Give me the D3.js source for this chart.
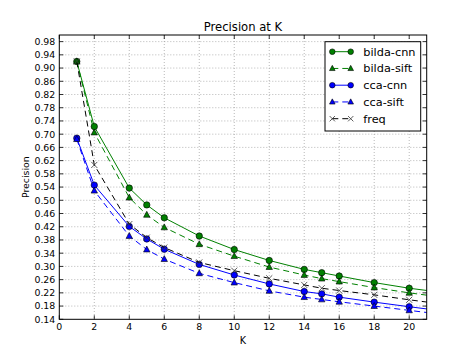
<!DOCTYPE html>
<html><head><meta charset="utf-8">
<script src="https://cdn.jsdelivr.net/npm/d3@7"></script>
<style>body{margin:0;background:#fff}svg{display:block;font-family:"DejaVu Sans",sans-serif}</style>
</head><body><svg id="c" width="474" height="355"></svg>
<script>
const ks = [1,2,4,5,6,8,10,12,14,15,16,18,20,25];
const bildaCnn  = [0.920,0.723,0.537,0.486,0.447,0.392,0.351,0.318,0.291,0.281,0.271,0.251,0.234,0.200];
const bildaSift = [0.920,0.705,0.508,0.456,0.418,0.367,0.331,0.298,0.274,0.263,0.254,0.236,0.220,0.185];
const ccaCnn    = [0.688,0.546,0.421,0.383,0.352,0.306,0.274,0.247,0.224,0.217,0.207,0.192,0.178,0.145];
const ccaSift   = [0.685,0.529,0.392,0.351,0.322,0.279,0.251,0.226,0.207,0.200,0.193,0.180,0.167,0.135];
const freq      = [0.920,0.607,0.428,0.387,0.357,0.312,0.287,0.264,0.244,0.234,0.227,0.214,0.199,0.165];
const seriesNames = ["bilda-cnn","bilda-sift","cca-cnn","cca-sift","freq"];
const xTicks = d3.range(0, 21, 2);
const yTicks = d3.range(0.14, 0.99, 0.04);

const series = [
  {name: seriesNames[0], vals: bildaCnn,  color: "#008000", dash: null,  marker: "circle"},
  {name: seriesNames[1], vals: bildaSift, color: "#008000", dash: "6,4", marker: "triangle"},
  {name: seriesNames[2], vals: ccaCnn,    color: "#0000ff", dash: null,  marker: "circle"},
  {name: seriesNames[3], vals: ccaSift,   color: "#0000ff", dash: "6,4", marker: "triangle"},
  {name: seriesNames[4], vals: freq,      color: "#000000", dash: "6,4", marker: "x"}
];

const L = 59.3, R = 426.7, T = 35, B = 319.3;
const svg = d3.select("#c");
const x = d3.scaleLinear().domain([0, 21]).range([L, R]);
const y = d3.scaleLinear().domain([0.14, 1.0]).range([B, T]);

svg.append("defs").append("clipPath").attr("id","clip")
  .append("rect").attr("x",L).attr("y",T).attr("width",R-L).attr("height",B-T);

// grid
const g = svg.append("g");
g.selectAll(".gx").data(xTicks.slice(1)).join("line")
  .attr("x1",d=>x(d)).attr("x2",d=>x(d)).attr("y1",T).attr("y2",B)
  .attr("stroke","#888").attr("stroke-width",0.6).attr("stroke-dasharray","1,2");
g.selectAll(".gy").data(yTicks.slice(1)).join("line")
  .attr("y1",d=>y(d)).attr("y2",d=>y(d)).attr("x1",L).attr("x2",R)
  .attr("stroke","#888").attr("stroke-width",0.6).attr("stroke-dasharray","1,2");

function markerPath(type, r) {
  if (type === "circle") return d3.symbol(d3.symbolCircle, Math.PI*r*r)();
  if (type === "triangle") return `M0,${-r*1.1}L${r*1.0},${r*0.75}L${-r*1.0},${r*0.75}Z`;
  return `M${-r},${-r}L${r},${r}M${-r},${r}L${r},${-r}`;
}
function drawMarker(sel, s, r) {
  if (s.marker === "x") {
    sel.attr("d", markerPath("x", r*0.95)).attr("fill","none").attr("stroke","#333").attr("stroke-width",0.8);
  } else {
    sel.attr("d", markerPath(s.marker, r)).attr("fill", s.color).attr("stroke","#000").attr("stroke-width",0.6);
  }
}

const plot = svg.append("g").attr("clip-path","url(#clip)");
const line = d3.line().x(d=>x(d[0])).y(d=>y(d[1]));
series.forEach(s => {
  const pts = ks.map((k,i)=>[k, s.vals[i]]);
  plot.append("path").datum(pts).attr("d", line).attr("fill","none")
    .attr("stroke", s.color).attr("stroke-width",1)
    .attr("stroke-dasharray", s.dash);
  plot.selectAll(null).data(pts).join("path")
    .attr("transform", d=>`translate(${x(d[0])},${y(d[1])})`)
    .call(sel => drawMarker(sel, s, 3.2));
});

// frame
svg.append("rect").attr("x",L).attr("y",T).attr("width",R-L).attr("height",B-T)
  .attr("fill","none").attr("stroke","#000").attr("stroke-width",1);

// ticks (inside, all sides)
const tl = 4;
const tk = svg.append("g").attr("stroke","#000").attr("stroke-width",0.8);
xTicks.forEach(t => {
  tk.append("line").attr("x1",x(t)).attr("x2",x(t)).attr("y1",B).attr("y2",B-tl);
  tk.append("line").attr("x1",x(t)).attr("x2",x(t)).attr("y1",T).attr("y2",T+tl);
});
yTicks.forEach(t => {
  tk.append("line").attr("y1",y(t)).attr("y2",y(t)).attr("x1",L).attr("x2",L+tl);
  tk.append("line").attr("y1",y(t)).attr("y2",y(t)).attr("x1",R).attr("x2",R-tl);
});

// tick labels
svg.append("g").selectAll("text").data(xTicks).join("text")
  .attr("x",d=>x(d)).attr("y",B+11).attr("text-anchor","middle")
  .attr("font-size","9.4px").attr("fill","#000").text(d=>d);
svg.append("g").selectAll("text").data(yTicks).join("text")
  .attr("x",L-4).attr("y",d=>y(d)+3.4).attr("text-anchor","end")
  .attr("font-size","9.4px").attr("fill","#000").text(d=>d.toFixed(2));

// titles
svg.append("text").attr("x",(L+R)/2).attr("y",30.5).attr("text-anchor","middle")
  .attr("font-size","11.6px").text("Precision at K");
svg.append("text").attr("x",(L+R)/2).attr("y",344).attr("text-anchor","middle")
  .attr("font-size","9.6px").text("K");
svg.append("text").attr("transform",`translate(28.5,${(T+B)/2}) rotate(-90)`)
  .attr("text-anchor","middle").attr("font-size","9.4px").text("Precision");

// legend
const lg = svg.append("g");
lg.append("rect").attr("x",325).attr("y",41.7).attr("width",95.7).attr("height",89.3)
  .attr("fill","#fff").attr("stroke","#000").attr("stroke-width",1);
series.forEach((s,i) => {
  const yy = 51.7 + i*16.75;
  lg.append("line").attr("x1",332.3).attr("x2",350.7).attr("y1",yy).attr("y2",yy)
    .attr("stroke",s.color).attr("stroke-width",1).attr("stroke-dasharray",s.dash);
  [332.3,350.7].forEach(px => {
    lg.append("path").attr("transform",`translate(${px},${yy})`).call(sel=>drawMarker(sel,s,2.8));
  });
  lg.append("text").attr("x",363.3).attr("y",yy+4).attr("font-size","11.3px").text(s.name);
});
</script></body></html>
